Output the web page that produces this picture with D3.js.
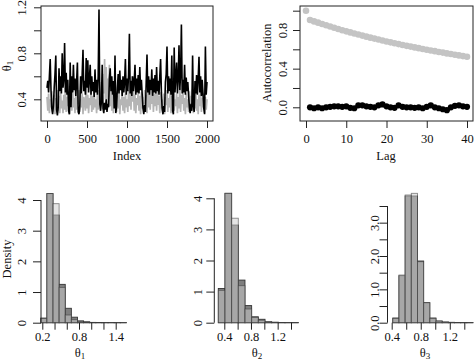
<!DOCTYPE html>
<html><head><meta charset="utf-8">
<script src="https://cdn.jsdelivr.net/npm/d3@7"></script>
<style>body{margin:0;background:#fff}svg{display:block}</style>
</head><body><svg id="c" width="474" height="361"></svg>
<script>
// ---------- DATA ----------
const traceStep = 10;
const traceBlack = [0.5,0.56,0.46,0.6,0.75,0.48,0.32,0.27,0.34,0.5,0.62,0.78,0.31,0.26,0.33,0.67,0.47,0.6,0.45,0.8,
0.5,0.58,0.89,0.46,0.63,0.44,0.57,0.3,0.27,0.72,0.33,0.6,0.46,0.7,0.48,0.58,0.43,0.55,0.72,0.29,
0.27,0.34,0.6,0.45,0.62,0.83,0.47,0.56,0.44,0.76,0.5,0.74,0.46,0.58,0.7,0.44,0.6,0.47,0.55,0.42,
0.66,0.46,0.57,0.44,0.6,1.18,0.36,0.3,0.38,0.7,0.32,0.28,0.37,0.31,0.4,0.29,0.36,0.33,0.58,0.67,
0.47,0.6,0.44,0.56,0.32,0.78,0.28,0.34,0.5,0.62,0.45,0.65,0.48,0.57,0.43,0.6,0.46,0.55,0.75,0.44,
0.58,0.47,0.62,0.97,0.45,0.56,0.43,0.6,0.47,0.55,0.7,0.44,0.58,0.46,0.61,0.45,0.68,0.48,0.57,0.44,
0.32,0.27,0.35,0.29,0.55,0.79,0.46,0.6,0.44,0.57,0.48,0.66,0.43,0.58,0.46,0.61,0.45,0.68,0.47,0.56,
0.44,0.6,0.75,0.46,0.31,0.27,0.34,0.29,0.55,0.62,0.86,0.45,0.6,0.47,0.58,0.44,0.78,0.3,0.27,0.85,
0.46,0.6,0.72,0.45,0.58,0.87,0.48,0.62,1.05,0.45,0.57,0.46,0.7,0.44,0.59,0.47,0.55,0.43,0.33,0.28,
0.36,0.3,0.78,0.34,0.29,0.56,0.45,0.61,0.44,0.58,0.77,0.46,0.6,0.43,0.57,0.45,0.32,0.27,0.86,0.44,0.55];
const traceGray = [0.42,0.3,0.45,0.28,0.4,0.33,0.47,0.29,0.38,0.44,0.27,0.41,0.35,0.48,0.3,0.43,0.28,0.46,0.32,0.39,
0.28,0.44,0.31,0.5,0.29,0.42,0.34,0.47,0.27,0.4,0.45,0.3,0.52,0.33,0.41,0.28,0.46,0.31,0.43,0.36,
0.48,0.29,0.4,0.33,0.45,0.27,0.42,0.38,0.3,0.5,0.32,0.44,0.28,0.41,0.35,0.47,0.29,0.43,0.31,0.46,
0.33,0.4,0.28,0.45,0.31,0.48,0.35,0.42,0.55,0.38,0.62,0.45,0.75,0.4,0.68,0.36,0.58,0.42,0.7,0.34,
0.5,0.3,0.44,0.28,0.41,0.36,0.47,0.29,0.43,0.32,0.49,0.27,0.4,0.35,0.46,0.3,0.42,0.28,0.45,0.33,
0.4,0.29,0.48,0.34,0.56,0.31,0.6,0.38,0.52,0.3,0.44,0.28,0.41,0.35,0.47,0.3,0.43,0.27,0.46,0.32,
0.42,0.36,0.48,0.3,0.44,0.28,0.5,0.33,0.55,0.31,0.47,0.36,0.52,0.29,0.45,0.34,0.57,0.3,0.49,0.35,
0.43,0.28,0.46,0.32,0.4,0.3,0.45,0.27,0.42,0.35,0.48,0.29,0.41,0.33,0.46,0.28,0.43,0.31,0.47,0.3,
0.4,0.34,0.45,0.28,0.42,0.32,0.5,0.29,0.44,0.36,0.48,0.3,0.41,0.27,0.45,0.33,0.4,0.29,0.47,0.31,
0.43,0.35,0.49,0.28,0.42,0.32,0.46,0.3,0.4,0.27,0.44,0.34,0.48,0.29,0.41,0.33,0.45,0.28,0.42,0.31,0.4];
const traceXTicks = [0,500,1000,1500,2000];
const traceYTicks = [0.4,0.6,0.8,1.0,1.2];
const traceYLabels = ["0.4","","0.8","","1.2"];

const acfGray = [1.0,0.903,0.889,0.876,0.862,0.849,0.836,0.823,0.811,0.798,0.786,0.775,0.764,0.753,0.742,0.731,0.721,0.711,0.701,0.691,0.681,
0.672,0.663,0.654,0.645,0.636,0.628,0.620,0.612,0.604,0.596,0.588,0.581,0.573,0.566,0.558,0.551,0.544,0.537,0.530,0.523];
const acfBlack = [0.0,-0.01,0.0,-0.01,0.0,0.005,0.01,0.01,0.005,0.01,-0.005,-0.01,0.02,0.02,0.01,0.005,0.0,0.02,0.03,0.01,
0.0,-0.005,0.02,0.005,0.0,0.0,-0.005,0.0,-0.01,0.005,0.02,0.0,-0.01,-0.02,-0.03,0.0,0.015,0.02,0.01,0.005]; // lags 1..40
const acfXTicks = [0,10,20,30,40];
const acfYTicks = [0.0,0.2,0.4,0.6,0.8,1.0];
const acfYLabels = ["0.0","","0.4","","0.8",""];

const h1Start = 0.175, h1Width = 0.1;
const h1A = [0.14,4.21,3.88,1.15,0.25,0.10,0.02,0.01,0.005,0.003,0.002,0.001,0.001,0.001];
const h1B = [0.15,4.21,3.51,1.25,0.47,0.18,0.06,0.03,0.01,0.005,0.003,0.002,0.001,0.001];
const h1XTicks = [0.2,0.4,0.6,0.8,1.0,1.2,1.4];
const h1XLabels = ["0.2","","","0.8","","","1.4"];
const h1YTicks = [0,1,2,3,4];
const h1YLabels = ["0","1","2","3","4"];

const h2Start = 0.31, h2Width = 0.1;
const h2A = [1.04,4.16,3.36,1.19,0.44,0.17,0.08,0.02,0.01,0.005,0.003,0.001];
const h2B = [1.10,4.16,3.14,1.37,0.55,0.19,0.11,0.03,0.015,0.008,0.004,0.002];
const h2XTicks = [0.4,0.6,0.8,1.0,1.2,1.4];
const h2XLabels = ["0.4","","0.8","","1.2",""];
const h2YTicks = [0,1,2,3,4];
const h2YLabels = ["0","1","2","3","4"];

const h3Start = 0.415, h3Width = 0.085;
const h3A = [0.13,1.43,3.83,3.88,1.83,0.6,0.13,0.05,0.02,0.01,0.005,0.003,0.002];
const h3B = [0.14,1.41,3.80,3.80,1.85,0.6,0.14,0.05,0.02,0.01,0.005,0.003,0.002];
const h3XTicks = [0.4,0.6,0.8,1.0,1.2,1.4];
const h3XLabels = ["0.4","","0.8","","1.2",""];
const h3YTicks = [0,0.5,1,1.5,2,2.5,3,3.5];
const h3YLabels = ["0.0","","1.0","","2.0","","3.0",""];

// ---------- DRAW ----------
const FONT = "'Liberation Serif', 'Times New Roman', Times, 'DejaVu Serif', serif";
const svg = d3.select("#c").style("font-family", FONT);
svg.append("rect").attr("width",474).attr("height",361).attr("fill","#fff");
const FS = 12.5, TICK = 7;

function styleAxis(g, labels, rotate, labelOffset){
  g.attr("font-family", null).attr("font-size", null);
  g.select(".domain").remove();
  g.selectAll(".tick line").attr("stroke","#222");
  g.selectAll(".tick text").text((d,i)=>labels[i]).attr("font-size",FS)
   .style("font-family",FONT).attr("fill","#111");
  if(rotate){
    g.selectAll(".tick text").attr("transform","rotate(-90)").attr("x",0).attr("dy",0)
      .attr("y",labelOffset).attr("text-anchor","middle");
  }
}
function txt(){ return svg.append("text").style("font-family",FONT).attr("font-size",FS).attr("fill","#111").attr("text-anchor","middle"); }
function subText(x,y,base,sub,rot){
  const t = txt().attr("transform",`translate(${x},${y})`+(rot?" rotate(-90)":""));
  t.append("tspan").text(base);
  t.append("tspan").text(sub).attr("font-size",FS*0.72).attr("dy",2);
}

// Panel 1: trace
{
  const x = d3.scaleLinear().domain([0,2000]).range([47,207]);
  const y = d3.scaleLinear().domain([0.4,1.2]).range([99.3,7.3]);
  svg.append("clipPath").attr("id","cp1").append("rect").attr("x",41).attr("y",6).attr("width",172).attr("height",115);
  const line = d3.line().x((d,i)=>x(i*traceStep)).y(d=>y(d));
  const g = svg.append("g").attr("clip-path","url(#cp1)");
  g.append("path").datum(traceGray).attr("d",line).attr("fill","none").attr("stroke","#b5b5b5").attr("stroke-width",1.7);
  g.append("path").datum(traceBlack).attr("d",line).attr("fill","none").attr("stroke","#000").attr("stroke-width",1.6);
  svg.append("rect").attr("x",41).attr("y",6).attr("width",172).attr("height",115).attr("fill","none").attr("stroke","#222");
  const ax = svg.append("g").attr("transform","translate(0,121)").call(d3.axisBottom(x).tickValues(traceXTicks).tickSize(TICK).tickSizeOuter(0).tickPadding(6));
  styleAxis(ax, traceXTicks.map(String), false);
  const ay = svg.append("g").attr("transform","translate(41,0)").call(d3.axisLeft(y).tickValues(traceYTicks).tickSize(TICK).tickSizeOuter(0));
  styleAxis(ay, traceYLabels, true, -15);
  txt().attr("x",127).attr("y",160).text("Index");
  subText(11,66,"θ","1",true);
}

// Panel 2: ACF
{
  const x = d3.scaleLinear().domain([0,40]).range([306,467]);
  const y = d3.scaleLinear().domain([0,0.8]).range([107.3,30]);
  const g = svg.append("g");
  g.selectAll("circle.g").data(acfGray).join("circle").attr("cx",(d,i)=>x(i)).attr("cy",d=>y(d)).attr("r",3.3).attr("fill","#c4c4c4");
  g.selectAll("circle.b").data(acfBlack).join("circle").attr("cx",(d,i)=>x(i+1)).attr("cy",d=>y(d)).attr("r",3.1).attr("fill","#000");
  svg.append("rect").attr("x",300).attr("y",6).attr("width",173).attr("height",115).attr("fill","none").attr("stroke","#222");
  const ax = svg.append("g").attr("transform","translate(0,121)").call(d3.axisBottom(x).tickValues(acfXTicks).tickSize(TICK).tickSizeOuter(0).tickPadding(6));
  styleAxis(ax, acfXTicks.map(String), false);
  const ay = svg.append("g").attr("transform","translate(300,0)").call(d3.axisLeft(y).tickValues(acfYTicks).tickSize(TICK).tickSizeOuter(0));
  styleAxis(ay, acfYLabels, true, -13);
  txt().attr("x",386).attr("y",160).text("Lag");
  txt().attr("transform","translate(271,63) rotate(-90)").text("Autocorrelation");
}

// Histograms
function hist(o){
  const x = d3.scaleLinear().domain(o.xd).range(o.xr);
  const y = d3.scaleLinear().domain(o.yd).range(o.yr);
  const n = Math.max(o.A.length,o.B.length);
  svg.append("line").attr("x1",x(o.start)).attr("x2",x(o.start+n*o.width)).attr("y1",y(0)).attr("y2",y(0)).attr("stroke","#9a9a9a");
  const g = svg.append("g");
  const bx = (d,i)=>x(o.start+i*o.width), bw = (d,i)=>x(o.start+(i+1)*o.width)-x(o.start+i*o.width);
  g.selectAll("rect.b").data(o.B).join("rect")
    .attr("x",bx).attr("width",bw)
    .attr("y",d=>y(d)).attr("height",d=>y(0)-y(d)).attr("fill","#7e7e7e").attr("stroke","#333").attr("stroke-width",0.9);
  g.selectAll("rect.a").data(o.A).join("rect")
    .attr("x",bx).attr("width",bw)
    .attr("y",d=>y(d)).attr("height",d=>y(0)-y(d)).attr("fill","rgba(205,205,205,0.52)").attr("stroke","rgba(60,60,60,0.6)").attr("stroke-width",0.9);
  const ax = svg.append("g").attr("transform",`translate(0,${y(0)})`).call(d3.axisBottom(x).tickValues(o.xt).tickSize(7).tickSizeOuter(0).tickPadding(2));
  styleAxis(ax, o.xl, false);
  const ay = svg.append("g").attr("transform",`translate(${o.axX},0)`).call(d3.axisLeft(y).tickValues(o.yt).tickSize(8).tickSizeOuter(0));
  styleAxis(ay, o.yl, true, o.labOff);
  ay.append("line").attr("x1",0).attr("x2",0).attr("y1",y(o.yt[0])).attr("y2",y(o.yt[o.yt.length-1])).attr("stroke","#222");
  subText(o.tx,357,"θ",o.sub,false);
}
hist({xd:[0.2,1.4],xr:[42.3,115.7],yd:[0,4],yr:[322.7,200],start:h1Start,width:h1Width,A:h1A,B:h1B,xt:h1XTicks,xl:h1XLabels,yt:h1YTicks,yl:h1YLabels,axX:41,labOff:-15,tx:80,sub:"1"});
hist({xd:[0.4,1.4],xr:[224.3,291],yd:[0,4],yr:[322.7,198.3],start:h2Start,width:h2Width,A:h2A,B:h2B,xt:h2XTicks,xl:h2XLabels,yt:h2YTicks,yl:h2YLabels,axX:214.3,labOff:-12,tx:257,sub:"2"});
hist({xd:[0.4,1.4],xr:[391.7,464.3],yd:[0,3.5],yr:[322.7,206],start:h3Start,width:h3Width,A:h3A,B:h3B,xt:h3XTicks,xl:h3XLabels,yt:h3YTicks,yl:h3YLabels,axX:387.5,labOff:-9,tx:425,sub:"3"});
txt().attr("transform","translate(11,259) rotate(-90)").text("Density");
</script></body></html>
